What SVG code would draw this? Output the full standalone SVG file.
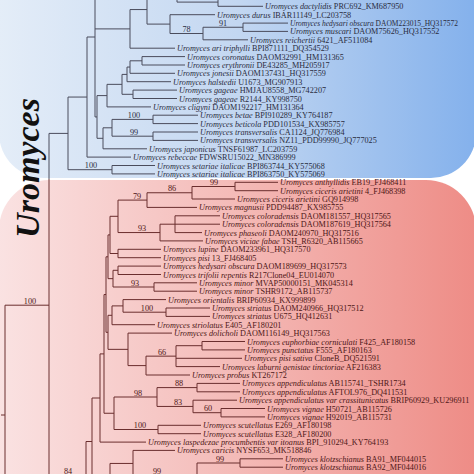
<svg xmlns="http://www.w3.org/2000/svg" width="474" height="474" viewBox="0 0 474 474">
<style>
text{font-family:"Liberation Serif","Times New Roman",serif;font-size:8.2px}
.sp{font-style:italic}
.tb{fill:#2a2c3e}
.tr{fill:#4d1616}
.bs{text-anchor:middle}
.lb{fill:none;stroke:#4a4c5c;stroke-width:1}
.lr{fill:none;stroke:#6a2e2e;stroke-width:1}
.big{font-size:34px;font-weight:bold;font-style:italic;fill:#111;text-anchor:middle}
</style>
<defs>
<linearGradient id="gb" x1="0" y1="0" x2="1" y2="0">
<stop offset="0" stop-color="#e4edf8"/><stop offset="0.5" stop-color="#c3d7f1"/><stop offset="1" stop-color="#84b1ec"/>
</linearGradient>
<linearGradient id="gr" x1="0" y1="0" x2="1" y2="0">
<stop offset="0" stop-color="#fae2e2"/><stop offset="0.5" stop-color="#f4bab7"/><stop offset="1" stop-color="#ee8c86"/>
</linearGradient>
</defs>
<rect width="474" height="474" fill="#ffffff"/>
<g id="backgrounds">
<rect x="-1" y="-80" width="477" height="258" rx="45" fill="url(#gb)"/>
<rect x="-1" y="180" width="477" height="340" rx="50" fill="url(#gr)"/>
</g>
<g id="connectors">
<path class="lb" d="M218 -2.1H256M218 6.3H263M170 14.7H215M243 23.1H288M243 31.4H288M203 39.8H248M130 48.2H175M142 56.6H185M142 65H185M130 73.3H175M127 81.7H171M133 90.1H177M133 98.5H177M107 106.9H151M153 115.2H198M153 123.6H198M153 132H198M153 140.4H198M103 148.8H147M87 157.1H131M112 165.5H155M112 173.9H155
M177 2.1H218M147 -5H177M203 27.25H243M170 33.5H203M147 24.1H170M130 9.55H147M95 28.9H130M130 60.8H142M127 67.05H130M122 74.4H127M122 94.3H133M107 84.35H122M97 95.6H107M112 119.4H153M112 136.2H153M103 127.8H112M97 138.3H103M95 116.95H97M87 37H95M68 97.05H87M68 169.7H112M49 133.4H68
M218 -2.1V6.3M177 -12V2.1M243 23.1V31.4M203 27.25V39.8M170 14.7V33.5M147 -5V24.1M130 9.55V48.2M142 56.6V65M130 60.8V73.3M127 67.05V81.7M133 90.1V98.5M122 74.4V94.3M107 84.35V106.9M153 115.2V123.6M153 132V140.4M112 119.4V136.2M103 127.8V148.8M97 95.6V138.3M95 -43V116.95M87 37V157.1M112 165.5V173.9M68 97.05V169.7M49 133.4V179"/>
<path class="lr" d="M49 179V477M5 305.2V480M1 415H5M5 305.2H49M49 477H86
M235 182.3H278M235 190.7H278M192 199H235M147 207.4H197M175 215.8H220M175 224.2H220M175 232.6H202M160 240.9H203M118 249.3H161M118 257.7H161M118 266.1H161M118 274.5H161M154 282.8H197M154 291.2H197M123 299.6H166M166 308H210M166 316.4H210M112 324.7H155M128 333.1H172M202 341.5H245M202 349.9H245M176 358.3H242M176 366.6H220M146 375H190M197 383.4H240M197 391.8H240M193 400.2H237M221 408.5H265M221 416.9H265M158 425.3H201M158 433.7H201M100 442.1H146M133 450.4H175M240 458.8H283M240 467.2H283
M192 186.5H235M147 192.75H192M118 200.1H147M160 224.2H175M118 232.55H160M110 216.3H118M110 253.5H118M108 234.9H110M113 270.3H118M113 287H154M108 278.65H113M106 256.8H108M123 312.2H166M112 305.9H123M108 315.3H112M176 345.7H202M146 356.15H176M128 365.6H146M108 349.35H128M106 332.3H108M104 294.55H106M157 387.6H197M193 412.7H221M157 406.45H193M114 397H157M114 429.5H158M104 413.25H114M100 353.9H104M92 398H100M197 463H240M133 476.5H197M110 463.45H133M92 485H110M86 441.5H92
M235 182.3V190.7M192 186.5V199M147 192.75V207.4M175 215.8V232.6M160 224.2V240.9M118 200.1V232.55M118 249.3V257.7M110 216.3V253.5M118 266.1V274.5M154 282.8V291.2M113 270.3V287M108 234.9V278.65M166 308V316.4M123 299.6V312.2M112 305.9V324.7M202 341.5V349.9M176 345.7V366.6M146 356.15V375M128 333.1V365.6M108 315.3V349.35M106 256.8V332.3M197 383.4V391.8M221 408.5V416.9M193 400.2V412.7M157 387.6V406.45M158 425.3V433.7M114 397V429.5M104 294.55V413.25M100 353.9V442.1M240 458.8V467.2M197 463V490M133 450.4V476.5M110 463.45V507M92 398V485M86 441.5V512"/>
</g>
<g id="support">
<text class="bs tb" x="186.5" y="32">78</text>
<text class="bs tb" x="223" y="25.7">91</text>
<text class="bs tb" x="134" y="118">100</text>
<text class="bs tb" x="134" y="134.7">99</text>
<text class="bs tb" x="91" y="168.2">100</text>
<text class="bs tr" x="214" y="185">99</text>
<text class="bs tr" x="172" y="191.2">86</text>
<text class="bs tr" x="137" y="198.6">79</text>
<text class="bs tr" x="142" y="231">93</text>
<text class="bs tr" x="135" y="285.5">93</text>
<text class="bs tr" x="147" y="310.7">100</text>
<text class="bs tr" x="162" y="354.6">66</text>
<text class="bs tr" x="179" y="386">88</text>
<text class="bs tr" x="178" y="405">83</text>
<text class="bs tr" x="208" y="411.2">60</text>
<text class="bs tr" x="138" y="395.5">98</text>
<text class="bs tr" x="140" y="428">100</text>
<text class="bs tr" x="220" y="461.5">99</text>
<text class="bs tr" x="157" y="473.5">99</text>
<text class="bs tr" x="68" y="473.5">84</text>
<text class="bs tr" x="30" y="303.7">100</text>
</g>
<g id="clade-label"><text class="big" transform="translate(39,168) rotate(-90)">Uromyces</text></g>
<g id="leaf-dactylidis"><text class="tb" x="265" y="9.3"><tspan class="sp">Uromyces dactylidis</tspan> PRC692_KM687950</text></g>
<g id="leaf-durus"><text class="tb" x="217" y="17.7"><tspan class="sp">Uromyces durus</tspan> IBAR11149_LC203758</text></g>
<g id="leaf-hedysari1"><text class="tb" x="290" y="26.1" textLength="168" lengthAdjust="spacingAndGlyphs"><tspan class="sp">Uromyces hedysari obscura</tspan> DAOM223015_HQ317572</text></g>
<g id="leaf-muscari"><text class="tb" x="290" y="34.4"><tspan class="sp">Uromyces muscari</tspan> DAOM75626_HQ317552</text></g>
<g id="leaf-reichertii"><text class="tb" x="250" y="42.8"><tspan class="sp">Uromyces reichertii</tspan> 6421_AF511084</text></g>
<g id="leaf-ari"><text class="tb" x="177" y="51.2"><tspan class="sp">Uromyces ari triphylli</tspan> BPI871111_DQ354529</text></g>
<g id="leaf-coronatus"><text class="tb" x="187" y="59.6"><tspan class="sp">Uromyces coronatus</tspan> DAOM32991_HM131365</text></g>
<g id="leaf-erythronii"><text class="tb" x="187" y="68"><tspan class="sp">Uromyces erythronii</tspan> DE43285_MH205917</text></g>
<g id="leaf-jonesii"><text class="tb" x="177" y="76.3"><tspan class="sp">Uromyces jonesii</tspan> DAOM137431_HQ317559</text></g>
<g id="leaf-halstedii"><text class="tb" x="173" y="84.7"><tspan class="sp">Uromyces halstedii</tspan> U1673_MG907913</text></g>
<g id="leaf-gageae1"><text class="tb" x="179" y="93.1"><tspan class="sp">Uromyces gageae</tspan> HMJAU8558_MG742207</text></g>
<g id="leaf-gageae2"><text class="tb" x="179" y="101.5"><tspan class="sp">Uromyces gageae</tspan> R2144_KY998750</text></g>
<g id="leaf-cligyni"><text class="tb" x="153" y="109.9"><tspan class="sp">Uromyces cligyni</tspan> DAOM192217_HM131364</text></g>
<g id="leaf-betae"><text class="tb" x="200" y="118.2"><tspan class="sp">Uromyces betae</tspan> BPI910289_KY764187</text></g>
<g id="leaf-beticola"><text class="tb" x="200" y="126.6"><tspan class="sp">Uromyces beticola</tspan> PDD101534_KX985757</text></g>
<g id="leaf-transversalis1"><text class="tb" x="200" y="135"><tspan class="sp">Uromyces transversalis</tspan> CA1124_JQ776984</text></g>
<g id="leaf-transversalis2"><text class="tb" x="200" y="143.4"><tspan class="sp">Uromyces transversalis</tspan> NZ11_PDD99990_JQ777025</text></g>
<g id="leaf-japonicus"><text class="tb" x="149" y="151.8"><tspan class="sp">Uromyces japonicus</tspan> TNSF61987_LC203759</text></g>
<g id="leaf-rebeccae"><text class="tb" x="133" y="160.1"><tspan class="sp">Uromyces rebeccae</tspan> FDWSRU15022_MN386999</text></g>
<g id="leaf-setariae1"><text class="tb" x="157" y="168.5"><tspan class="sp">Uromyces setariae italicae</tspan> BPI863744_KY575068</text></g>
<g id="leaf-setariae2"><text class="tb" x="157" y="176.9"><tspan class="sp">Uromyces setariae italicae</tspan> BPI863750_KY575069</text></g>
<g id="leaf-anthyllidis"><text class="tr" x="280" y="185.3"><tspan class="sp">Uromyces anthyllidis</tspan> EB19_FJ468411</text></g>
<g id="leaf-ciceris1"><text class="tr" x="280" y="193.7"><tspan class="sp">Uromyces ciceris arietini</tspan> 4_FJ468398</text></g>
<g id="leaf-ciceris2"><text class="tr" x="237" y="202"><tspan class="sp">Uromyces ciceris arietini</tspan> GQ914998</text></g>
<g id="leaf-magnusii"><text class="tr" x="199" y="210.4"><tspan class="sp">Uromyces magnusii</tspan> PDD94487_KX985755</text></g>
<g id="leaf-coloradensis1"><text class="tr" x="222" y="218.8"><tspan class="sp">Uromyces coloradensis</tspan> DAOM181557_HQ317565</text></g>
<g id="leaf-coloradensis2"><text class="tr" x="222" y="227.2"><tspan class="sp">Uromyces coloradensis</tspan> DAOM187619_HQ317564</text></g>
<g id="leaf-phaseoli"><text class="tr" x="204" y="235.6"><tspan class="sp">Uromyces phaseoli</tspan> DAOM240970_HQ317516</text></g>
<g id="leaf-viciae"><text class="tr" x="205" y="243.9"><tspan class="sp">Uromyces viciae fabae</tspan> TSH_R6320_AB115665</text></g>
<g id="leaf-lupine"><text class="tr" x="163" y="252.3"><tspan class="sp">Uromyces lupine</tspan> DAOM233961_HQ317570</text></g>
<g id="leaf-pisi"><text class="tr" x="163" y="260.7"><tspan class="sp">Uromyces pisi</tspan> 13_FJ468405</text></g>
<g id="leaf-hedysari2"><text class="tr" x="163" y="269.1"><tspan class="sp">Uromyces hedysari obscura</tspan> DAOM189699_HQ317573</text></g>
<g id="leaf-trifolii"><text class="tr" x="163" y="277.5"><tspan class="sp">Uromyces trifolii repentis</tspan> R217Clone04_EU014070</text></g>
<g id="leaf-minor1"><text class="tr" x="199" y="285.8"><tspan class="sp">Uromyces minor</tspan> MVAP50000151_MK045314</text></g>
<g id="leaf-minor2"><text class="tr" x="199" y="294.2"><tspan class="sp">Uromyces minor</tspan> TSHR9172_AB115737</text></g>
<g id="leaf-orientalis"><text class="tr" x="168" y="302.6"><tspan class="sp">Uromyces orientalis</tspan> BRIP60934_KX999899</text></g>
<g id="leaf-striatus1"><text class="tr" x="212" y="311"><tspan class="sp">Uromyces striatus</tspan> DAOM240966_HQ317512</text></g>
<g id="leaf-striatus2"><text class="tr" x="212" y="319.4"><tspan class="sp">Uromyces striatus</tspan> U675_HQ412631</text></g>
<g id="leaf-striolatus"><text class="tr" x="157" y="327.7"><tspan class="sp">Uromyces striolatus</tspan> E405_AF180201</text></g>
<g id="leaf-dolicholi"><text class="tr" x="174" y="336.1"><tspan class="sp">Uromyces dolicholi</tspan> DAOM116149_HQ317563</text></g>
<g id="leaf-euphorbiae"><text class="tr" x="247" y="344.5"><tspan class="sp">Uromyces euphorbiae corniculati</tspan> F425_AF180158</text></g>
<g id="leaf-punctatus"><text class="tr" x="247" y="352.9"><tspan class="sp">Uromyces punctatus</tspan> F555_AF180163</text></g>
<g id="leaf-pisisativa"><text class="tr" x="244" y="361.3"><tspan class="sp">Uromyces pisi sativa</tspan> CloneB_DQ521591</text></g>
<g id="leaf-laburni"><text class="tr" x="222" y="369.6"><tspan class="sp">Uromyces laburni genistae tinctoriae</tspan> AF216383</text></g>
<g id="leaf-probus"><text class="tr" x="192" y="378"><tspan class="sp">Uromyces probus</tspan> KT267172</text></g>
<g id="leaf-appendiculatus1"><text class="tr" x="242" y="386.4"><tspan class="sp">Uromyces appendiculatus</tspan> AB115741_TSHR1734</text></g>
<g id="leaf-appendiculatus2"><text class="tr" x="242" y="394.8"><tspan class="sp">Uromyces appendiculatus</tspan> AFTOL976_DQ411531</text></g>
<g id="leaf-appendiculatus3"><text class="tr" x="239" y="403.2"><tspan class="sp">Uromyces appendiculatus var crassitunicatus</tspan> BRIP60929_KU296911</text></g>
<g id="leaf-vignae1"><text class="tr" x="267" y="411.5"><tspan class="sp">Uromyces vignae</tspan> H50721_AB115726</text></g>
<g id="leaf-vignae2"><text class="tr" x="267" y="419.9"><tspan class="sp">Uromyces vignae</tspan> H92019_AB115731</text></g>
<g id="leaf-scutellatus1"><text class="tr" x="203" y="428.3"><tspan class="sp">Uromyces scutellatus</tspan> E269_AF180198</text></g>
<g id="leaf-scutellatus2"><text class="tr" x="203" y="436.7"><tspan class="sp">Uromyces scutellatus</tspan> E328_AF180200</text></g>
<g id="leaf-laspedezae"><text class="tr" x="148" y="445.1"><tspan class="sp">Uromyces laspedezae procumbentis var itoanus</tspan> BPI_910294_KY764193</text></g>
<g id="leaf-caricis"><text class="tr" x="177" y="453.4"><tspan class="sp">Uromyces caricis</tspan> NYSF653_MK518846</text></g>
<g id="leaf-klotzschianus1"><text class="tr" x="285" y="461.8"><tspan class="sp">Uromyces klotzschianus</tspan> BA91_MF044015</text></g>
<g id="leaf-klotzschianus2"><text class="tr" x="285" y="470.2"><tspan class="sp">Uromyces klotzschianus</tspan> BA92_MF044016</text></g>
</svg>
